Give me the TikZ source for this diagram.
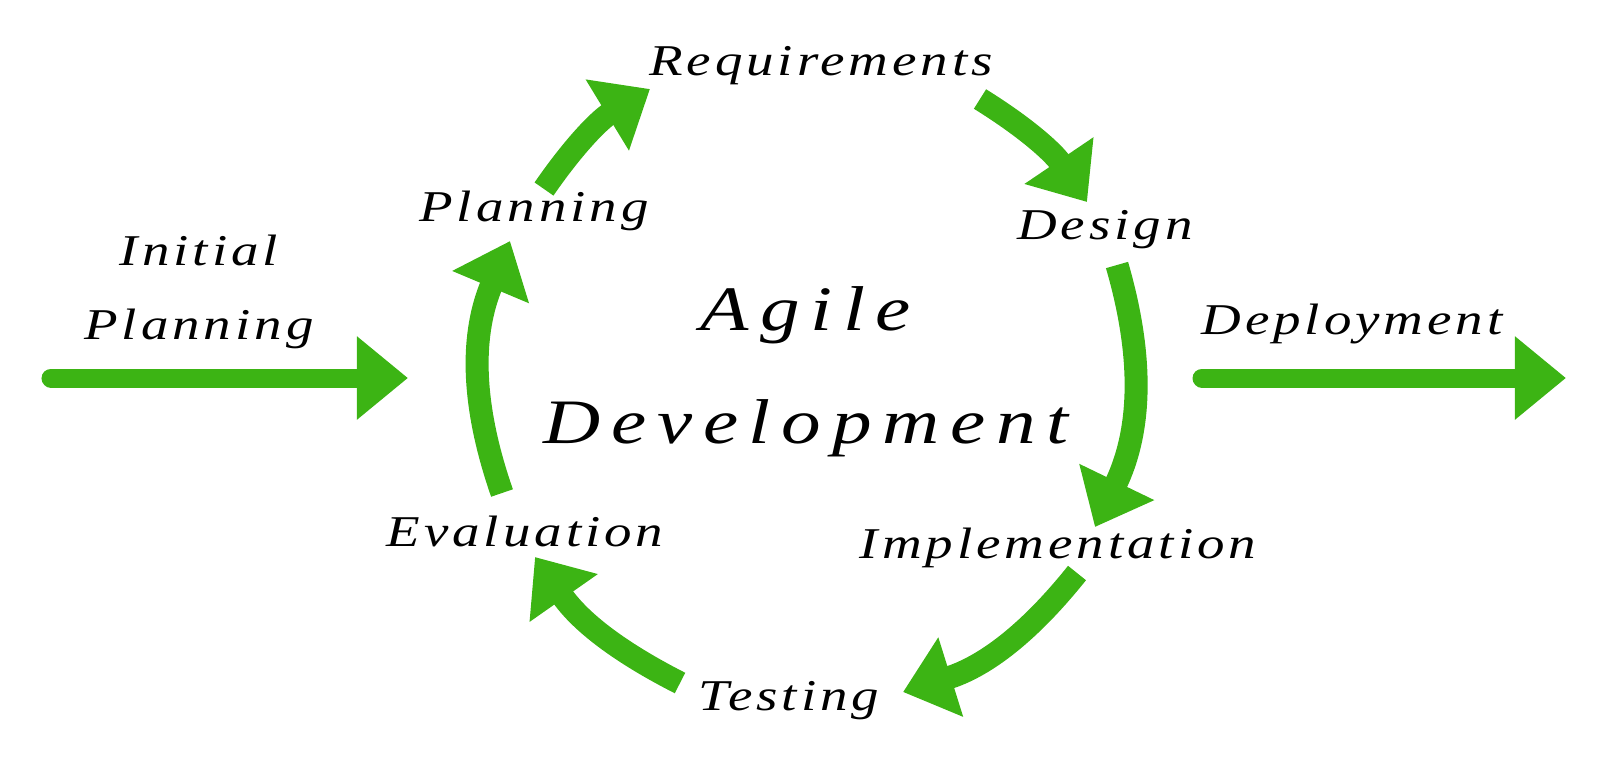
\documentclass[tikz,border=0pt]{standalone}
\usepackage{fontspec}
\newfontfamily\labelfont{Liberation Serif}[FakeStretch=1.25, LetterSpace=9]
\newfontfamily\titlefont{Liberation Serif}[FakeStretch=1.25, LetterSpace=17]
\usetikzlibrary{arrows.meta}
\definecolor{agilegreen}{RGB}{60,180,20}
\tikzset{
  stage/.style={font=\labelfont\itshape\fontsize{12.5}{21}\selectfont, align=center, inner sep=0pt},
  title/.style={font=\titlefont\itshape\fontsize{18}{32}\selectfont, align=center, inner sep=0pt},
  cyclearrow/.style={agilegreen, line width=0.23cm, -{Triangle[width=0.8cm,length=0.5cm]}},
  flowarrow/.style={agilegreen, line width=0.19cm, line cap=round, -{Triangle[width=0.8cm,length=0.51cm]}}
}
\begin{document}
\begin{tikzpicture}[x=0.01cm, y=0.01cm]
\useasboundingbox (0,0) rectangle (1600,-766);

% labels
\node[stage] (initial) at (199,-292) {Initial\\Planning};
\node[stage] (deploy) at (1352,-324) {Deployment};
\node[stage] (req) at (821,-66) {Requirements};
\node[stage] (plan) at (534,-211) {Planning};
\node[stage] (design) at (1105,-230) {Design};
\node[stage] (impl) at (1058,-548) {Implementation};
\node[stage] (test) at (789,-701) {Testing};
\node[stage] (eval) at (525,-531) {Evaluation};
\node[title] (agile) at (806,-372) {Agile\\Development};

% arrow ends
\coordinate (in1) at (51,-378);
\coordinate (in2) at (408,-378);
\coordinate (out1) at (1202,-378);
\coordinate (out2) at (1566,-378);
\coordinate (a1) at (544,-189);
\coordinate (a2) at (650,-89);
\coordinate (b1) at (980,-99);
\coordinate (b2) at (1087,-202);
\coordinate (c1) at (1117,-265);
\coordinate (c2) at (1095,-527);
\coordinate (d1) at (1077,-573);
\coordinate (d2) at (903,-692);
\coordinate (e1) at (680,-683);
\coordinate (e2) at (535,-557);
\coordinate (f1) at (502,-493);
\coordinate (f2) at (510,-241);

% arrows
\draw[flowarrow] (in1) -- (in2);
\draw[flowarrow] (out1) -- (out2);
\draw[cyclearrow] (a1) to[bend left=12] (a2);
\draw[cyclearrow] (b1) to[bend left=12] (b2);
\draw[cyclearrow] (c1) to[bend left=21] (c2);
\draw[cyclearrow] (d1) to[bend left=17] (d2);
\draw[cyclearrow] (e1) to[bend left=14] (e2);
\draw[cyclearrow] (f1) to[bend left=21] (f2);
\end{tikzpicture}
\end{document}
